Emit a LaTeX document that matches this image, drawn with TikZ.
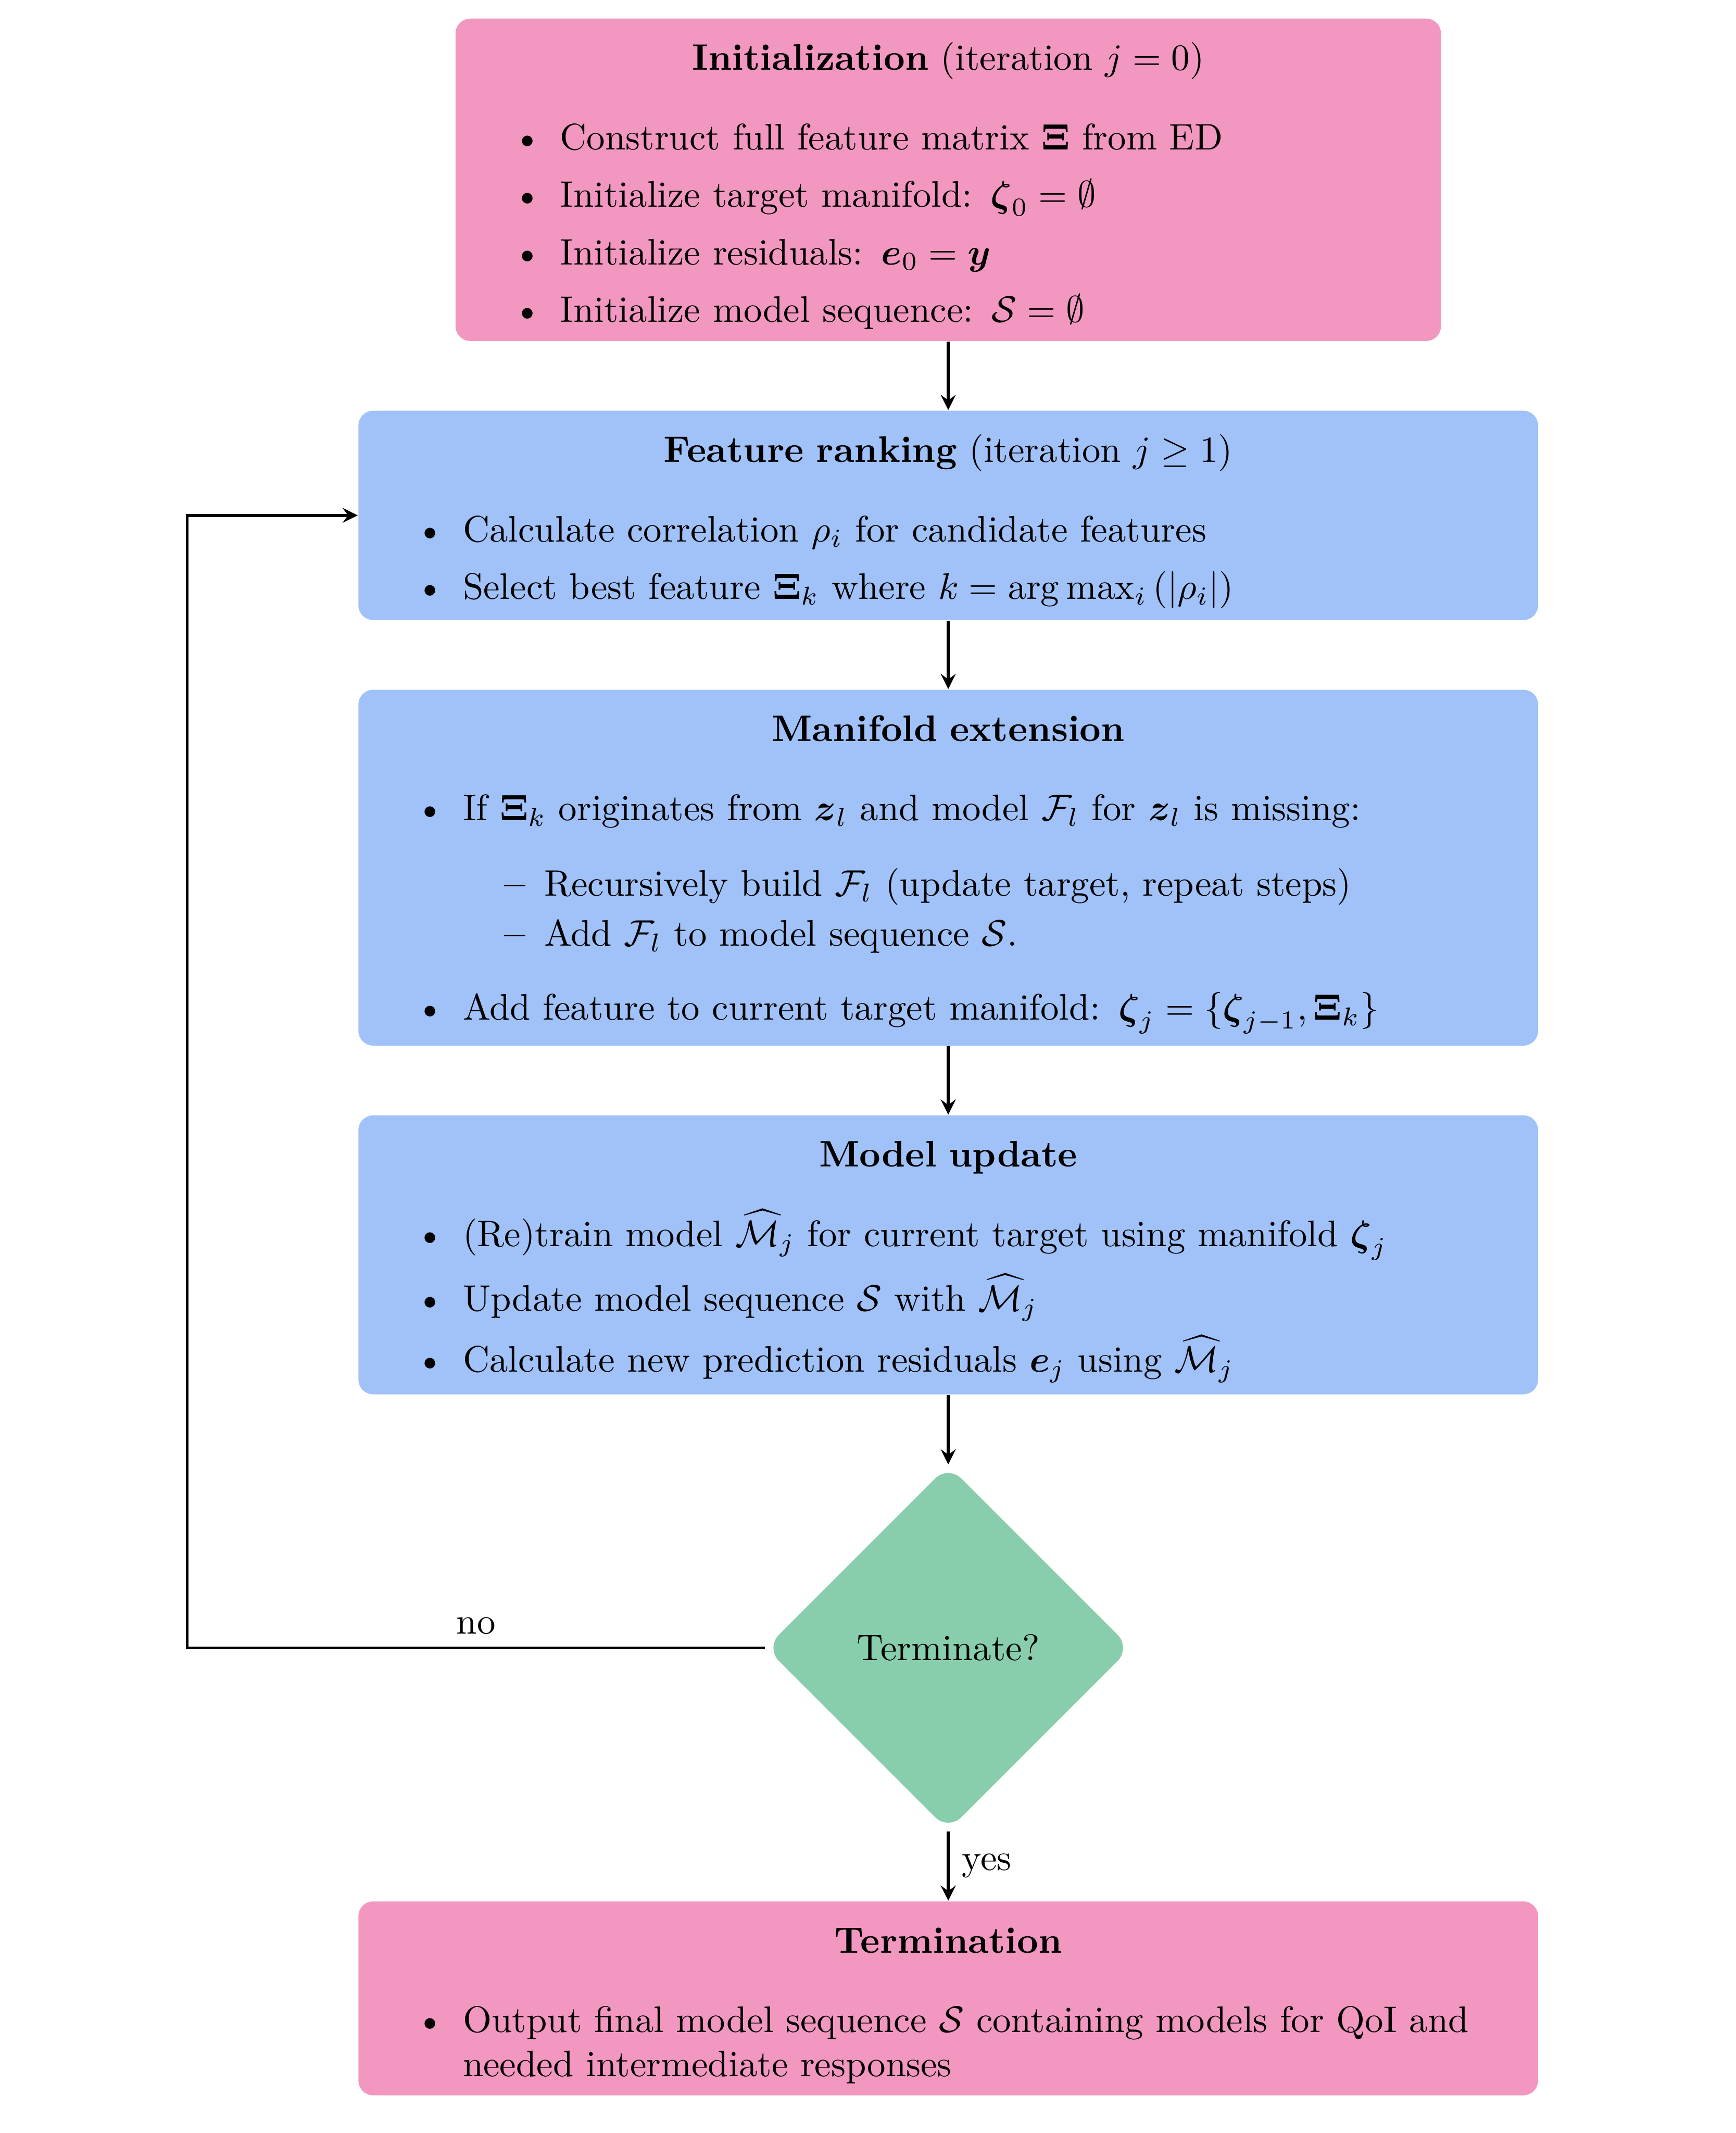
\documentclass[tikz,border=0pt]{standalone}
\usepackage{amsmath,amssymb}
\usepackage{enumitem}
\usepackage{tikz}
\usetikzlibrary{arrows.meta,positioning,shapes.geometric}
\definecolor{initpink}{HTML}{F297C0}
\definecolor{stepblue}{HTML}{A0C2F8}
\definecolor{decgreen}{HTML}{88CEAC}
\setlist[itemize]{itemsep=-0.4pt}
\setlist[itemize,1]{topsep=7.5pt}
\setlist[itemize,2]{topsep=4.4pt}
\setlength{\lineskip}{0pt}
\newcommand{\boxtitle}[1]{{\centering\rule{0pt}{10.8pt}#1\par}}

\begin{document}
\begin{tikzpicture}[
  node distance=6.5mm,
  stage/.style={rectangle,rounded corners=4pt,fill=stepblue,text width=11cm,
               inner xsep=3.33pt,inner ysep=3.15pt,align=left},
  endstage/.style={stage,fill=initpink},
  decision/.style={diamond,rounded corners=5pt,fill=decgreen,aspect=1,
                  minimum width=3.48cm,minimum height=3.48cm,inner sep=0pt},
  flow/.style={thick,-stealth}
]
\useasboundingbox (0,0) rectangle (16.53,-20.31);

\node[endstage,text width=9.15cm,anchor=north] (init) at (9.03,-0.17) {%
  \boxtitle{\textbf{Initialization} (iteration $j=0$)}
  \begin{itemize}
    \item Construct full feature matrix $\boldsymbol{\Xi}$ from ED
    \item Initialize target manifold: $\boldsymbol{\zeta}_0=\emptyset$
    \item Initialize residuals: $\boldsymbol{e}_0=\boldsymbol{y}$
    \item Initialize model sequence: $\mathcal{S}=\emptyset$
  \end{itemize}};

\node[stage,below=of init] (feat) {%
  \boxtitle{\textbf{Feature ranking} (iteration $j\geq1$)}
  \begin{itemize}
    \item Calculate correlation $\rho_i$ for candidate features
    \item Select best feature $\boldsymbol{\Xi}_k$ where $k=\arg\max_i\left(|\rho_i|\right)$
  \end{itemize}};

\node[stage,below=of feat] (ext) {%
  \boxtitle{\textbf{Manifold extension}}
  \begin{itemize}
    \item If $\boldsymbol{\Xi}_k$ originates from $\boldsymbol{z}_l$ and model
      $\mathcal{F}_l$ for $\boldsymbol{z}_l$ is missing:
      \begin{itemize}
        \item Recursively build $\mathcal{F}_l$ (update target, repeat steps)
        \item Add $\mathcal{F}_l$ to model sequence $\mathcal{S}$.
      \end{itemize}
    \item Add feature to current target manifold:
      $\boldsymbol{\zeta}_j=\{\boldsymbol{\zeta}_{j-1},\boldsymbol{\Xi}_k\}$
  \end{itemize}};

\node[stage,below=of ext] (upd) {%
  \boxtitle{\textbf{Model update}}
  \begin{itemize}[itemsep=-1.3pt]
    \item (Re)train model $\widehat{\mathcal{M}}_j$ for current target using
      manifold $\boldsymbol{\zeta}_j$
    \item Update model sequence $\mathcal{S}$ with $\widehat{\mathcal{M}}_j$
    \item Calculate new prediction residuals $\boldsymbol{e}_j$ using
      $\widehat{\mathcal{M}}_j$
  \end{itemize}};

\node[decision,below=6.6mm of upd] (dec) {Terminate?};

\node[endstage,below=6.6mm of dec] (term) {%
  \boxtitle{\textbf{Termination}}
  \begin{itemize}
    \item Output final model sequence $\mathcal{S}$ containing models for QoI
      and needed intermediate responses
  \end{itemize}};

% connectors
\draw[flow] (init) -- (feat);
\draw[flow] (feat) -- (ext);
\draw[flow] (ext) -- (upd);
\draw[flow] (upd) -- (dec);
\draw[flow] (dec) -- node[right] {yes} (term);
\coordinate (back) at ([xshift=-5.5cm]dec.west);
\draw[flow] (dec.west) -- node[above] {no} (back) |- (feat.west);
\end{tikzpicture}
\end{document}
